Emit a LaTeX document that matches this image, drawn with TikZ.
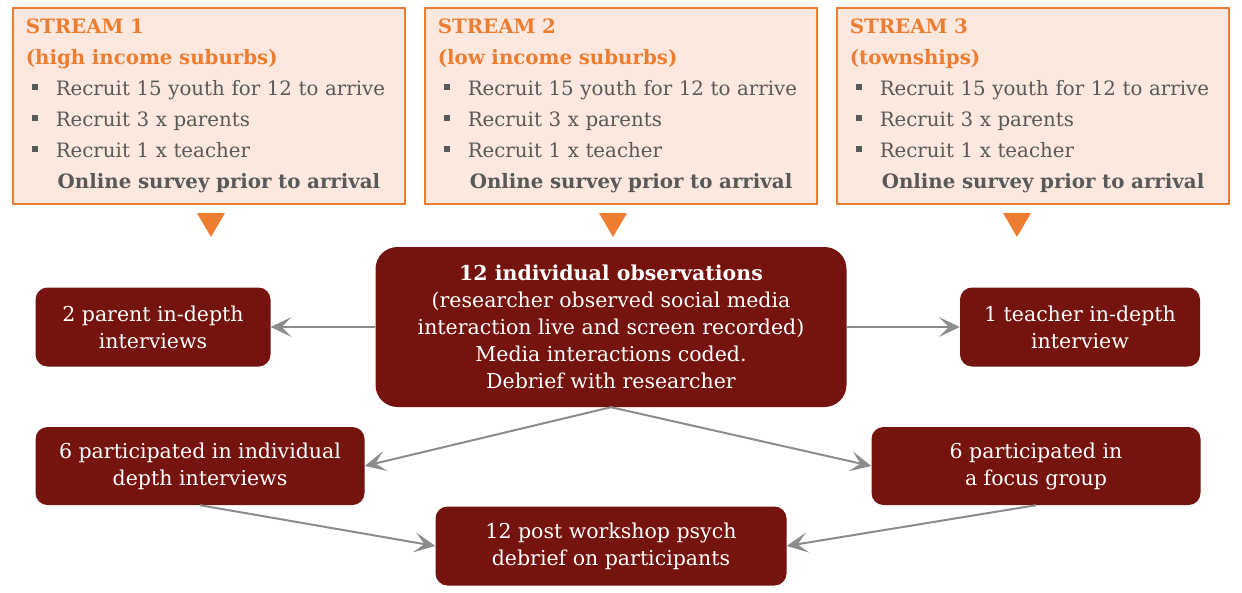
\documentclass[tikz,border=0pt]{standalone}
\usepackage{fontspec}
\setmainfont{DejaVu Serif}
\usetikzlibrary{arrows.meta, positioning, math}
\definecolor{sorange}{RGB}{237,125,49}
\definecolor{speach}{RGB}{252,232,222}
\definecolor{sred}{RGB}{117,20,14}
\definecolor{stext}{RGB}{89,89,89}
\definecolor{sarrow}{RGB}{140,140,140}
\newcommand{\bul}{\hspace*{6pt}\textcolor{stext}{\rule[5pt]{6pt}{6pt}}\hspace{18pt}}
\newcommand{\streamtext}[2]{\textbf{\textcolor{sorange}{STREAM #1}}\\
 \textbf{\textcolor{sorange}{(#2)}}\\
 \bul Recruit 15 youth for 12 to arrive\\
 \bul Recruit 3 x parents\\
 \bul Recruit 1 x teacher\\
 \hspace*{32pt}\textbf{Online survey prior to arrival}}

\begin{document}
\begin{tikzpicture}[x=1pt,y=-1pt,
 stream/.style={draw=sorange, line width=1.5pt, fill=speach, anchor=north west,
   minimum width=392pt, minimum height=196pt, text width=366pt, inner xsep=13pt,
   align=left, text=stext, font=\fontsize{19.8}{31}\selectfont},
 box/.style={fill=sred, rounded corners=12pt, text=white, align=center,
   font=\fontsize{20.5}{27}\selectfont},
 link/.style={draw=sarrow, line width=2pt,
   -{Stealth[length=21pt, width=20pt, inset=10pt]}}]
\useasboundingbox (0,0) rectangle (1242,592);

%streams:
 \node[stream] (s1) at (12,7) {\streamtext{1}{high income suburbs}};
 \node[stream] (s2) at (424,7) {\streamtext{2}{low income suburbs}};
 \node[stream] (s3) at (836,7) {\streamtext{3}{townships}};
 \foreach \x in {211,613,1017}{
  \fill[sorange] (\x-14,213) -- (\x+14,213) -- (\x,237) -- cycle;
 }

%boxes
 \node[box, minimum width=471pt, minimum height=160pt, rounded corners=22pt] (obs) at (611,327)
  {\textbf{12 individual observations}\\
   (researcher observed social media\\
   interaction live and screen recorded)\\
   Media interactions coded.\\
   Debrief with researcher};
 \node[box, minimum width=235pt, minimum height=79pt] (par) at (153,327)
  {2 parent in-depth\\ interviews};
 \node[box, minimum width=240pt, minimum height=79pt] (tea) at (1080,327)
  {1 teacher in-depth\\ interview};
 \node[box, minimum width=329pt, minimum height=78pt] (ind) at (200,466)
  {6 participated in individual\\ depth interviews};
 \node[box, minimum width=329pt, minimum height=78pt] (foc) at (1036,466)
  {6 participated in\\ a focus group};
 \node[box, minimum width=351pt, minimum height=79pt] (psy) at (611,546)
  {12 post workshop psych\\ debrief on participants};

%links
 \draw[link] (obs.west) -- (par.east);
 \draw[link] (obs.east) -- (tea.west);
 \draw[link] (obs.south) -- (ind.east);
 \draw[link] (obs.south) -- (foc.west);
 \draw[link] (ind.south) -- (psy.west);
 \draw[link] (foc.south) -- (psy.east);
\end{tikzpicture}
\end{document}
